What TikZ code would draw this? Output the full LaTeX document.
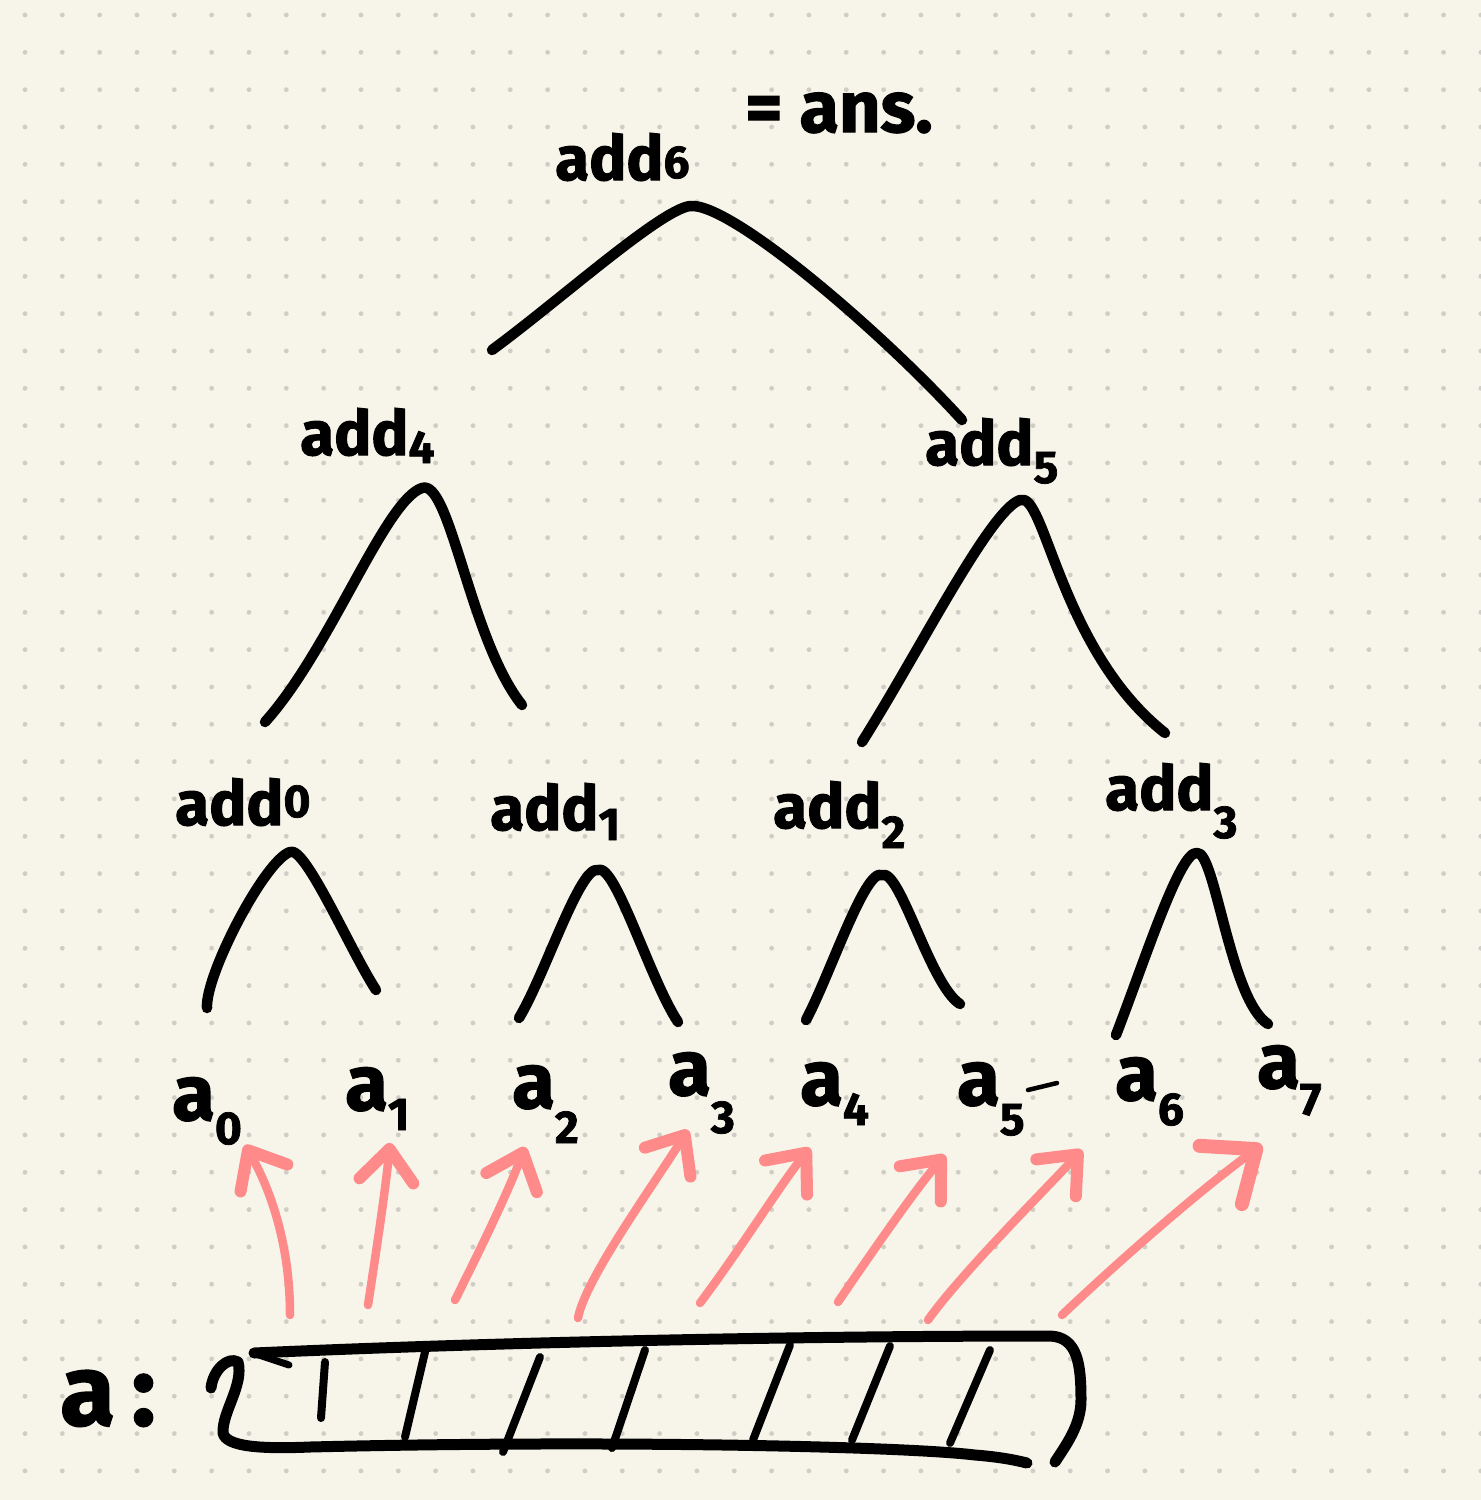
\documentclass[tikz,border=0pt]{standalone}
\usepackage{fontspec}
\setmainfont{Fira Sans}[BoldFeatures={FakeBold=1.6}]
\usetikzlibrary{arrows.meta}
\definecolor{paper}{HTML}{F7F5EA}
\definecolor{dotc}{HTML}{CFCDC4}
\definecolor{pinkc}{HTML}{FF8A8A}
\newcommand{\lbsub}[2]{\raisebox{#1}{\fontsize{46}{46}\selectfont #2}}
\begin{document}
\begin{tikzpicture}[x=1pt,y=-1pt,
  ink/.style={line width=10.5pt, line cap=round, line join=round},
  divider/.style={line width=8pt, line cap=round},
  pinkarrow/.style={draw=pinkc, line width=8.5pt, line cap=round,
    -{Straight Barb[length=32pt,width=54pt,line width=12pt,round]}},
  bigarrow/.style={pinkarrow, -{Straight Barb[length=44pt,width=72pt,line width=14pt,round]}},
  addlbl/.style={anchor=base west, inner sep=0pt, font=\fontsize{62}{70}\selectfont\bfseries},
  albl/.style={anchor=base west, inner sep=0pt, font=\fontsize{78}{80}\selectfont\bfseries}]
% background and dot grid
\fill[paper] (0,0) rectangle (1481,1500);
\useasboundingbox (0,0) rectangle (1481,1500);
\foreach \i in {0,...,39}{\foreach \j in {0,...,40}{
  \fill[dotc] ({25+37.33*\i},{15+37.33*\j}) circle (2.4pt);}}
% labels
\node[addlbl] (add6) at (555,180) {add\lbsub{2pt}{6}};
\node[addlbl, font=\fontsize{72}{76}\selectfont\bfseries] (ans) at (745,132) {= ans.};
\node[addlbl] (add4) at (300,455) {add\lbsub{-8pt}{4}};
\node[addlbl] (add5) at (925,465) {add\lbsub{-18pt}{5}};
\node[addlbl] (add0) at (175,825) {add\lbsub{8pt}{0}};
\node[addlbl] (add1) at (490,830) {add\lbsub{-10pt}{1}};
\node[addlbl] (add2) at (773,828) {add\lbsub{-20pt}{2}};
\node[addlbl] (add3) at (1105,810) {add\lbsub{-28pt}{3}};
\node[albl] (a0) at (172,1120) {a\lbsub{-24pt}{0}};
\node[albl] (a1) at (345,1110) {a\lbsub{-20pt}{1}};
\node[albl] (a2) at (512,1108) {a\lbsub{-35pt}{2}};
\node[albl] (a3) at (668,1095) {a\lbsub{-38pt}{3}};
\node[albl] (a4) at (800,1105) {a\lbsub{-20pt}{4}};
\node[albl] (a5) at (957,1105) {a\lbsub{-30pt}{5}};
\node[albl] (a6) at (1115,1100) {a\lbsub{-25pt}{6}};
\node[albl] (a7) at (1257,1088) {a\lbsub{-27pt}{7}};
\node[anchor=base west, inner sep=0pt, font=\fontsize{100}{110}\selectfont\bfseries] (alab) at (60,1425) {a\,:};
\draw[line width=4.5pt, line cap=round] (1028,1090) -- (1057,1083);
% tree connectors
\coordinate (t6L) at (492,350); \coordinate (t6P) at (690,206); \coordinate (t6R) at (962,420);
\coordinate (t4L) at (265,722); \coordinate (t4P) at (422,488); \coordinate (t4R) at (522,705);
\coordinate (t5L) at (862,742); \coordinate (t5P) at (1020,500); \coordinate (t5R) at (1165,733);
\coordinate (t0L) at (207,1008); \coordinate (t0P) at (290,852); \coordinate (t0R) at (376,990);
\coordinate (t1L) at (519,1018); \coordinate (t1P) at (598,870); \coordinate (t1R) at (678,1022);
\coordinate (t2L) at (806,1020); \coordinate (t2P) at (882,875); \coordinate (t2R) at (960,1004);
\coordinate (t3L) at (1116,1035); \coordinate (t3P) at (1197,853); \coordinate (t3R) at (1268,1024);
\draw[ink] (t6L) .. controls (560,300) and (660,210) .. (t6P) .. controls (730,202) and (880,330) .. (t6R);
\draw[ink] (t4L) .. controls (330,650) and (385,500) .. (t4P) .. controls (450,478) and (470,640) .. (t4R);
\draw[ink] (t5L) .. controls (920,650) and (990,510) .. (t5P) .. controls (1045,490) and (1060,650) .. (t5R);
\draw[ink] (t0L) .. controls (205,975) and (265,860) .. (t0P) .. controls (305,845) and (350,950) .. (t0R);
\draw[ink] (t1L) .. controls (545,975) and (580,865) .. (t1P) .. controls (615,862) and (650,980) .. (t1R);
\draw[ink] (t2L) .. controls (830,975) and (865,868) .. (t2P) .. controls (900,868) and (930,985) .. (t2R);
\draw[ink] (t3L) .. controls (1145,960) and (1180,850) .. (t3P) .. controls (1215,850) and (1230,1000) .. (t3R);
% array
\draw[line width=11pt, line cap=round, line join=round]
  (254,1353) .. controls (500,1342) and (800,1336) .. (1050,1336)
  .. controls (1078,1337) and (1081,1365) .. (1081,1400)
  .. controls (1081,1425) and (1066,1445) .. (1055,1462);
\draw[line width=7pt, line cap=round] (256,1354) -- (289,1365);
\draw[line width=11pt, line cap=round, line join=round]
  (211,1388) .. controls (213,1370) and (228,1356) .. (238,1362)
  .. controls (244,1385) and (222,1412) .. (223,1433)
  .. controls (226,1447) and (262,1449) .. (310,1447)
  .. controls (600,1440) and (900,1446) .. (975,1455)
  .. controls (1000,1457) and (1015,1460) .. (1027,1463);
\draw[divider] (325,1362) -- (321,1418);
\draw[divider] (425,1352) -- (405,1437);
\draw[divider] (540,1357) -- (503,1452);
\draw[divider] (645,1350) -- (612,1448);
\draw[divider] (790,1345) -- (753,1440);
\draw[divider] (890,1346) -- (852,1440);
\draw[divider] (990,1350) -- (950,1443);
% arrows from array cells to elements
\coordinate (s0) at (290,1315); \coordinate (h0) at (245,1145);
\coordinate (s1) at (368,1305); \coordinate (h1) at (390,1143);
\coordinate (s2) at (455,1300); \coordinate (h2) at (525,1147);
\coordinate (s3) at (578,1318); \coordinate (h3) at (688,1130);
\coordinate (s4) at (700,1303); \coordinate (h4) at (810,1148);
\coordinate (s5) at (838,1302); \coordinate (h5) at (945,1155);
\coordinate (s6) at (928,1320); \coordinate (h6) at (1082,1150);
\coordinate (s7) at (1062,1315); \coordinate (h7) at (1262,1145);
\draw[pinkarrow] (s0) .. controls (290,1240) and (268,1185) .. (h0);
\draw[pinkarrow] (s1) .. controls (378,1240) and (386,1185) .. (h1);
\draw[pinkarrow] (s2) .. controls (470,1270) and (505,1200) .. (h2);
\draw[pinkarrow] (s3) .. controls (585,1280) and (650,1190) .. (h3);
\draw[pinkarrow] (s4) .. controls (740,1250) and (780,1185) .. (h4);
\draw[pinkarrow] (s5) .. controls (870,1255) and (915,1190) .. (h5);
\draw[pinkarrow] (s6) .. controls (960,1275) and (1040,1195) .. (h6);
\draw[bigarrow] (s7) .. controls (1120,1260) and (1200,1190) .. (h7);
\end{tikzpicture}
\end{document}
